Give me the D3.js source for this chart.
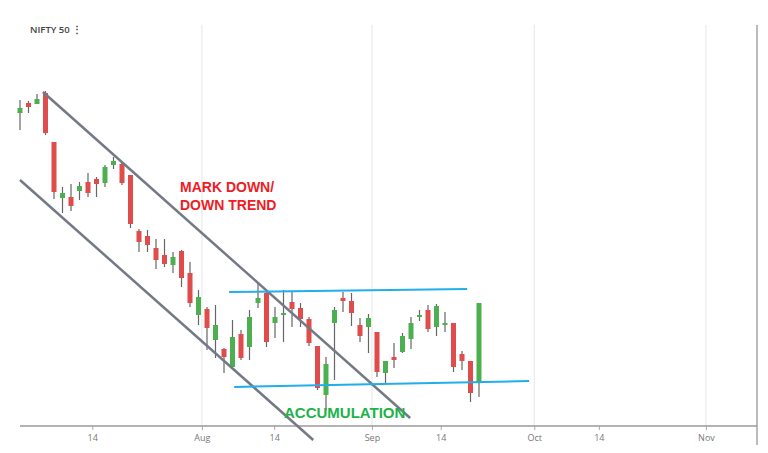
<!DOCTYPE html>
<html><head><meta charset="utf-8">
<script src="https://cdn.jsdelivr.net/npm/d3@7"></script>
<style>body{margin:0;background:#fff}svg{display:block}</style>
</head><body><svg id="c" width="768" height="453"></svg>
<script>
// OHLC per trading day (price units)
const opens  = [387,397,396,407,358,302,303,309,318,321,317,335,336,325,269,264,252,245,235,249,227,185,191,160,151,133,166,153,197,207,177,186,198,192,181,154,105,177,202,199,175,173,168,127,143,148,161,183,190,173,176,177,146,139,118];
const closes = [392,393,401,367,308,307,294,314,307,316,333,339,317,276,258,255,240,236,243,222,197,203,172,175,143,163,142,183,202,158,183,187,191,181,157,112,136,190,199,187,164,182,128,139,140,164,177,185,171,194,177,133,139,107,197];
const highs  = [400,399,406,409,358,313,316,318,327,323,335,343,337,325,271,270,261,261,248,250,238,210,193,195,152,180,170,190,218,210,193,210,209,197,183,154,143,193,208,207,182,186,168,139,157,167,183,190,195,196,188,177,149,139,197];
const lows   = [370,387,396,365,301,287,289,300,303,303,313,331,315,272,248,248,231,233,227,213,193,175,150,142,127,133,140,140,192,153,162,158,173,173,154,110,90,120,188,174,158,147,123,117,132,147,151,179,168,164,168,128,130,98,103];
const tickLabels = ["14","Aug","14","Sep","14","Oct","14","Nov"];
const tickIdx    = [8.5,21.4,29.9,41.4,49.5,60.5,68.1,80.7];
const upperChannel = [[2.7,408],[45.9,82]];
const lowerChannel = [[0,320],[34.5,60]];
const resistance = [[24.6,208],[52.6,211]];
const support    = [[25.2,113],[59.9,119]];

const svg = d3.select("#c");
const x = d3.scaleLinear().domain([0,1]).range([20,28.5]);
const y = d3.scaleLinear().domain([0,500]).range([500,0]);
const axisY = 426;

svg.append("g").selectAll("line").data(tickIdx.filter((d,i)=>i%2==1)).join("line")
  .attr("x1",d=>x(d)).attr("x2",d=>x(d)).attr("y1",25).attr("y2",axisY)
  .attr("stroke","#e6e6e6");
svg.append("line").attr("x1",757).attr("x2",757).attr("y1",25).attr("y2",445).attr("stroke","#777");

const ax = d3.axisBottom(x).tickValues(tickIdx).tickFormat((d,i)=>tickLabels[i]).tickSize(4).tickSizeOuter(0);
const g = svg.append("g").attr("transform",`translate(0,${axisY})`).call(ax);
g.select(".domain").remove();
g.append("line").attr("x1",20).attr("x2",757).attr("stroke","#9a9a9a").attr("stroke-width",1.5);
g.selectAll(".tick line").attr("stroke","#aaa");
g.selectAll(".tick text").attr("fill","#777").attr("font-size",9).attr("font-family","Open Sans, sans-serif").attr("dy","0.9em");

svg.append("text").attr("x",30).attr("y",33).attr("font-size",9.5).attr("font-weight",600).attr("fill","#444")
  .attr("font-family","Open Sans, sans-serif").text("NIFTY 50   \u22EE");

const idx = d3.range(opens.length);
const cg = svg.append("g");
cg.selectAll("line").data(idx).join("line")
  .attr("x1",i=>x(i)).attr("x2",i=>x(i)).attr("y1",i=>y(highs[i])).attr("y2",i=>y(lows[i]))
  .attr("stroke","#666").attr("stroke-width",1.2);
cg.selectAll("rect").data(idx).join("rect")
  .attr("x",i=>x(i)-2.5).attr("width",5)
  .attr("y",i=>y(Math.max(opens[i],closes[i])))
  .attr("height",i=>Math.max(2,Math.abs(y(opens[i])-y(closes[i]))))
  .attr("fill",i=>closes[i]>=opens[i]?"#4caf50":"#e04b4b");

const line = d3.line().x(d=>x(d[0])).y(d=>y(d[1]));
[upperChannel,lowerChannel].forEach(p=>svg.append("path").attr("d",line(p)).attr("stroke","#737985").attr("stroke-width",2.5).attr("fill","none"));
[resistance,support].forEach(p=>svg.append("path").attr("d",line(p)).attr("stroke","#22aee8").attr("stroke-width",2).attr("fill","none"));

const f="Liberation Sans, Arial, sans-serif";
svg.append("text").attr("x",180).attr("y",192).attr("font-family",f).attr("font-weight","bold").attr("font-size",14).attr("fill","#ee1c24").text("MARK DOWN/");
svg.append("text").attr("x",180).attr("y",210).attr("font-family",f).attr("font-weight","bold").attr("font-size",14).attr("fill","#ee1c24").text("DOWN TREND");
svg.append("text").attr("x",284).attr("y",418).attr("font-family",f).attr("font-weight","bold").attr("font-size",15).attr("fill","#1db34a").text("ACCUMULATION");
</script></body></html>
